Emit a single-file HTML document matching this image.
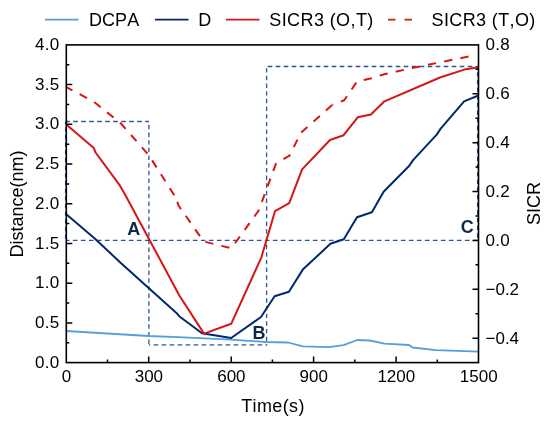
<!DOCTYPE html><html><head><meta charset="utf-8"><style>html,body{margin:0;padding:0;background:#fff;width:550px;height:423px;overflow:hidden}svg{display:block}text{font-family:"Liberation Sans",sans-serif;fill:#000;font-kerning:none}svg{will-change:transform}</style></head><body>
<svg width="550" height="423" viewBox="0 0 550 423">
<g stroke-width="1.8" fill="none">
<line x1="45" y1="19.7" x2="78.5" y2="19.7" stroke="#55a0d8"/>
<line x1="155" y1="19.7" x2="188.5" y2="19.7" stroke="#00296c"/>
<line x1="226" y1="19.7" x2="259.5" y2="19.7" stroke="#d61515"/>
<line x1="388" y1="19.7" x2="421" y2="19.7" stroke="#d61515" stroke-dasharray="7.5 9"/>
</g>
<g font-size="18">
<text x="88.9" y="25.7" textLength="50.3">DCPA</text>
<text x="198.3" y="25.7">D</text>
<text x="269.3" y="25.7" textLength="104">SICR3 (O,T)</text>
<text x="431.5" y="25.7" textLength="103.8">SICR3 (T,O)</text>
</g>
<g stroke="#2F5597" stroke-width="1.3" fill="none">
<line x1="66.3" y1="240.4" x2="478.5" y2="240.4" stroke-dasharray="4.6 3.4" stroke-dashoffset="1.4"/>
<line x1="65.6" y1="121.5" x2="148.9" y2="121.5" stroke-dasharray="4.6 3.4" stroke-dashoffset="0.4"/>
<line x1="148.9" y1="344.8" x2="266.6" y2="344.8" stroke-dasharray="4.6 3.4" stroke-dashoffset="3.3"/>
<line x1="266.6" y1="66.5" x2="477.6" y2="66.5" stroke-dasharray="4.6 3.4" stroke-dashoffset="6.9"/>
<line x1="65.6" y1="121.5" x2="65.6" y2="240.4" stroke-dasharray="4.4 3.27" stroke-dashoffset="2"/>
<line x1="148.9" y1="121.5" x2="148.9" y2="345.6" stroke-dasharray="4.4 3.27" stroke-dashoffset="4.34"/>
<line x1="266.6" y1="66.5" x2="266.6" y2="345.6" stroke-dasharray="4.4 3.27" stroke-dashoffset="5.98"/>
<line x1="477.6" y1="66.5" x2="477.6" y2="240.4" stroke-dasharray="4.4 3.27" stroke-dashoffset="2"/>
</g>
<polyline points="66.3,331.0 148.7,336.0 178.0,337.1 231.0,339.6 266.0,342.0 288.0,342.5 303.0,346.3 329.0,347.2 343.6,345.1 357.3,340.0 370.0,340.5 384.5,343.6 409.0,345.0 412.5,347.5 436.0,350.2 478.4,351.6" fill="none" stroke="#55a0d8" stroke-width="1.8" stroke-linejoin="round"/>
<polyline points="66.3,214.3 95.0,238.7 120.8,262.9 176.2,312.7 179.2,316.2 202.0,333.3 231.2,338.0 261.0,317.0 274.6,296.2 288.9,291.7 302.8,269.6 330.4,243.8 343.8,239.2 357.0,217.2 371.9,212.3 383.6,191.7 409.3,165.8 413.1,160.1 436.7,134.6 440.5,128.9 464.1,101.4 478.4,95.5" fill="none" stroke="#00296c" stroke-width="2" stroke-linejoin="round"/>
<polyline points="66.3,124.4 93.8,148.1 95.6,152.5 119.8,185.4 124.9,194.2 179.2,295.2 204.0,333.6 231.2,323.8 261.3,257.6 275.0,211.2 289.2,203.1 302.1,169.4 330.0,140.0 343.6,135.2 357.7,117.3 370.9,114.5 384.4,101.3 440.0,77.5 464.3,69.6 478.4,67.2" fill="none" stroke="#d61515" stroke-width="2" stroke-linejoin="round"/>
<polyline points="66.3,87.2 93.8,101.7 120.9,123.5 148.7,155.0 176.2,198.3" fill="none" stroke="#d61515" stroke-width="2" stroke-dasharray="8.3 8.22" stroke-dashoffset="1.43" stroke-linejoin="round"/>
<polyline points="176.2,198.3 178.5,205.5 203.7,241.5 231.3,248.3 258.7,210.5 276.0,163.5 289.5,155.6 301.0,132.6 332.5,104.6" fill="none" stroke="#d61515" stroke-width="2" stroke-dasharray="8.3 8.22" stroke-dashoffset="12.92" stroke-linejoin="round"/>
<polyline points="332.5,104.6 344.2,100.3 356.9,81.7 371.5,78.2 384.4,74.2 411.4,68.2 475.9,55.0" fill="none" stroke="#d61515" stroke-width="2" stroke-dasharray="8.3 8.22" stroke-dashoffset="7.50" stroke-linejoin="round"/>
<rect x="66.3" y="44.9" width="412.2" height="317.7" fill="none" stroke="#000" stroke-width="1.6"/>
<path d="M66.3,342.7h3M66.3,322.9h6M66.3,303.0h3M66.3,283.2h6M66.3,263.3h3M66.3,243.5h6M66.3,223.6h3M66.3,203.8h6M66.3,183.9h3M66.3,164.0h6M66.3,144.2h3M66.3,124.3h6M66.3,104.5h3M66.3,84.6h6M66.3,64.8h3M107.5,362.6v-3M148.7,362.6v-6M190.0,362.6v-3M231.2,362.6v-6M272.4,362.6v-3M313.6,362.6v-6M354.8,362.6v-3M396.1,362.6v-6M437.3,362.6v-3M478.5,338.2h-6M478.5,313.7h-3M478.5,289.3h-6M478.5,264.8h-3M478.5,240.4h-6M478.5,216.0h-3M478.5,191.5h-6M478.5,167.1h-3M478.5,142.7h-6M478.5,118.2h-3M478.5,93.8h-6M478.5,69.3h-3" stroke="#000" stroke-width="1.5" fill="none"/>
<g font-size="17">
<text x="35.0" y="367.7" textLength="24.3">0.0</text>
<text x="35.0" y="328.0" textLength="24.3">0.5</text>
<text x="35.0" y="288.3" textLength="24.3">1.0</text>
<text x="35.0" y="248.6" textLength="24.3">1.5</text>
<text x="35.0" y="208.8" textLength="24.3">2.0</text>
<text x="35.0" y="169.1" textLength="24.3">2.5</text>
<text x="35.0" y="129.4" textLength="24.3">3.0</text>
<text x="35.0" y="89.7" textLength="24.3">3.5</text>
<text x="35.0" y="50.0" textLength="24.3">4.0</text>
<text x="66.5" y="382.3" text-anchor="middle">0</text>
<text x="148.9" y="382.3" text-anchor="middle">300</text>
<text x="231.4" y="382.3" text-anchor="middle">600</text>
<text x="313.8" y="382.3" text-anchor="middle">900</text>
<text x="396.3" y="382.3" text-anchor="middle">1200</text>
<text x="478.7" y="382.3" text-anchor="middle">1500</text>
<text x="485.5" y="343.6">−0.4</text>
<text x="485.5" y="294.7">−0.2</text>
<text x="485.5" y="245.8" textLength="24.3">0.0</text>
<text x="485.5" y="196.9" textLength="24.3">0.2</text>
<text x="485.5" y="148.1" textLength="24.3">0.4</text>
<text x="485.5" y="99.2" textLength="24.3">0.6</text>
<text x="485.5" y="50.3" textLength="24.3">0.8</text>
</g>
<text font-size="18" x="241.2" y="411.6" textLength="63.2">Time(s)</text>
<text font-size="18" transform="translate(23.3,204.0) scale(1.05,1) rotate(-90)" text-anchor="middle">Distance(nm)</text>
<text font-size="18" transform="translate(540.0,203.5) scale(1.05,1) rotate(-90)" text-anchor="middle">SICR</text>
<g font-size="18" font-weight="bold" style="fill:#0d2a48">
<text x="127.3" y="234.8" style="fill:#0d2a48">A</text>
<text x="252.5" y="339.3" style="fill:#0d2a48">B</text>
<text x="460.8" y="232.7" style="fill:#0d2a48">C</text>
</g>
</svg></body></html>
